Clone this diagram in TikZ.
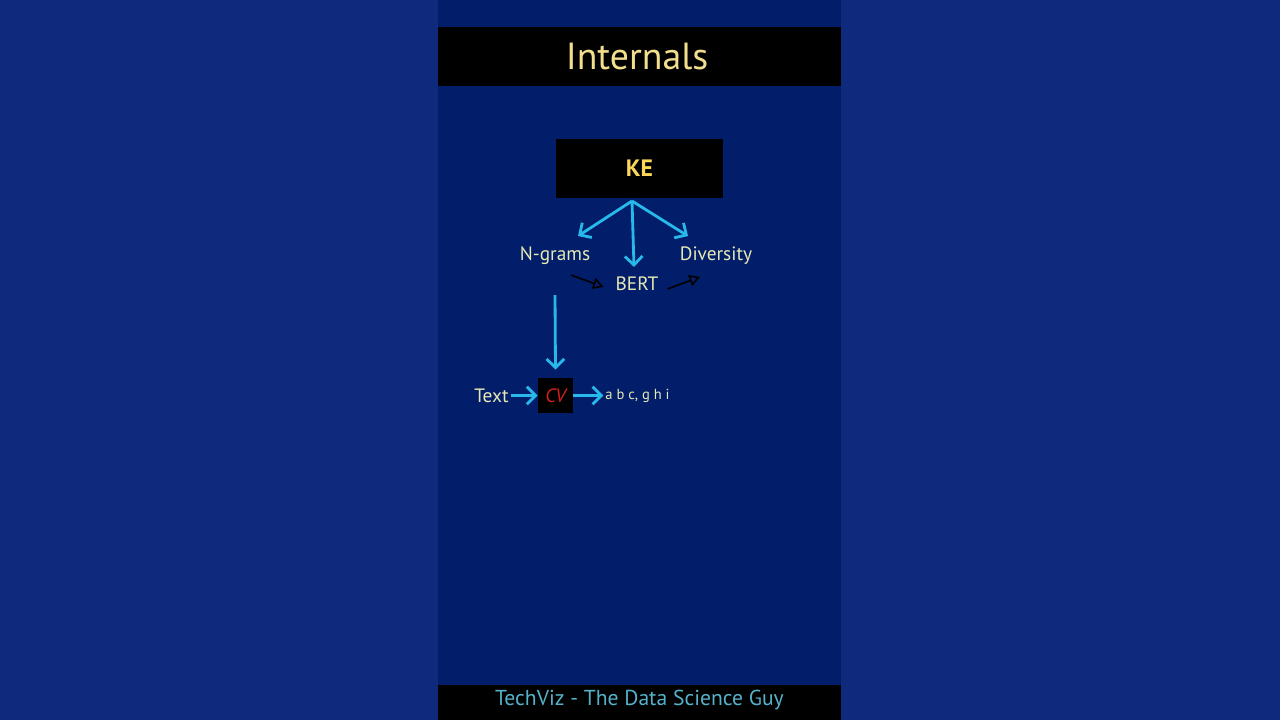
\documentclass[tikz,border=0pt]{standalone}
\usepackage{fontspec}
\setmainfont{PT Sans}
\usetikzlibrary{arrows.meta,positioning}
\definecolor{sideblue}{RGB}{15,42,125}
\definecolor{panelblue}{RGB}{2,30,106}
\definecolor{titleyellow}{RGB}{242,222,140}
\definecolor{keyellow}{RGB}{250,214,90}
\definecolor{labelyellow}{RGB}{230,233,180}
\definecolor{arrowcyan}{RGB}{40,185,235}
\definecolor{footteal}{RGB}{85,178,202}
\definecolor{cvred}{RGB}{215,30,30}

\begin{document}
\begin{tikzpicture}[x=0.02cm,y=-0.02cm,
    box/.style={rectangle,fill=black,inner sep=0pt},
    lbl/.style={text=labelyellow,font=\fontsize{11}{13}\selectfont,inner sep=1pt},
    to/.style={-{Straight Barb[length=5pt,width=10pt]},draw=arrowcyan,line width=1.6pt},
    tob/.style={-{Triangle[open,length=6pt,width=6.5pt]},draw=black,line width=0.9pt}]

  % background and bars
  \fill[sideblue] (0,0) rectangle (1280,720);
  \fill[panelblue] (438,0) rectangle (841,720);
  \fill[black] (438,27) rectangle (841,86);
  \fill[black] (438,685) rectangle (841,720);

  \node[text=titleyellow,font=\fontsize{21.5}{24}\selectfont] (title) at (637,56.5) {Internals};
  \node[text=footteal,font=\fontsize{12.3}{14}\selectfont] (foot) at (639.5,700) {TechViz - The Data Science Guy};

  % tree
  \node[box,minimum width=3.34cm,minimum height=1.18cm,text=keyellow,
    font=\fontsize{13.5}{15}\selectfont\bfseries] (ke) at (639.5,168.5) {KE};
  \coordinate (fork) at (632,201);
  \node[lbl] (ngrams) at (555,256) {N-grams};
  \node[lbl] (bert) at (637,284) {BERT};
  \node[lbl] (div) at (716,256) {Diversity};

  \draw[to] (fork) -- ([xshift=0.46cm,yshift=0.18cm]ngrams.north);
  \draw[to] (fork) -- ([xshift=-0.06cm,yshift=0.16cm]bert.north);
  \draw[to] (fork) -- ([xshift=-0.56cm,yshift=0.18cm]div.north);
  \draw[tob] ([xshift=0.32cm,yshift=-0.16cm]ngrams.south) -- ([xshift=-0.2cm,yshift=-0.06cm]bert.west);
  \draw[tob] ([xshift=0.14cm,yshift=-0.1cm]bert.east) -- ([xshift=-0.32cm,yshift=-0.2cm]div.south);

  % count vectorizer
  \node[box,minimum size=0.7cm,text=cvred,font=\fontsize{11}{13}\selectfont\itshape] (cv) at (555.5,395.5) {CV};
  \node[lbl,left=0.54cm of cv] (text) {Text};
  \node[lbl,right=0.6cm of cv,font=\fontsize{8.3}{10}\selectfont] (out) {a b c, g h i};

  \draw[to] ([yshift=-0.56cm]ngrams.south) -- ([yshift=0.16cm]cv.north);
  \draw[to] (text.east) -- (cv.west);
  \draw[to] (cv.east) -- (out.west);

\end{tikzpicture}
\end{document}
